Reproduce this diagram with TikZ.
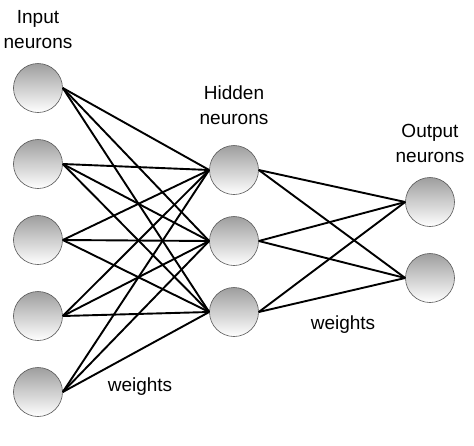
\documentclass[tikz,border=0pt]{standalone}
\usepackage{fontspec}
\setmainfont{Liberation Sans}
\tikzset{
    neuron/.style={circle, draw=black!65, line width=0.6pt, minimum size=49pt,
        inner sep=0pt, top color=black!38, bottom color=white},
    layertext/.style={align=center, font=\fontsize{19}{25}\selectfont},
    weight/.style={line width=1.9pt, black}
}
\begin{document}
\begin{tikzpicture}[x=1pt, y=-1pt]
    \useasboundingbox (0,0) rectangle (474,445);

    % neurons
    \foreach \i/\y in {1/88,2/164,3/240,4/316,5/392}
        \node[neuron] (in\i) at (38, \y) {};
    \foreach \j/\y in {1/170,2/241,3/312}
        \node[neuron] (hid\j) at (234, \y) {};
    \foreach \k/\y in {1/202,2/278}
        \node[neuron] (out\k) at (430, \y) {};

    % weights
    \foreach \i in {1,...,5}
        \foreach \j in {1,2,3}
            \draw[weight] (in\i.east) -- (hid\j.west);
    \foreach \j in {1,2,3}
        \foreach \k in {1,2}
            \draw[weight] (hid\j.east) -- (out\k.west);

    % labels
    \node[layertext] (inlabel) at (38, 30) {Input\\neurons};
    \node[layertext] (hidlabel) at (234, 105) {Hidden\\neurons};
    \node[layertext] (outlabel) at (430, 143) {Output\\neurons};
    \node[layertext] (wlabel1) at (140, 387) {weights};
    \node[layertext] (wlabel2) at (343, 325) {weights};
\end{tikzpicture}
\end{document}
